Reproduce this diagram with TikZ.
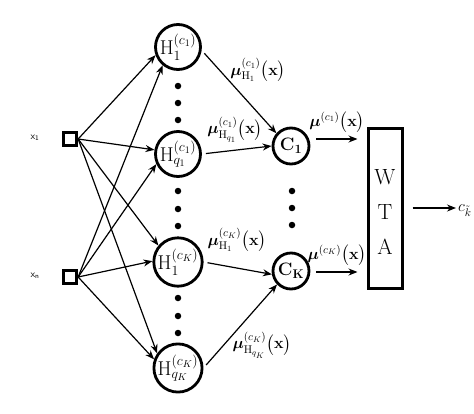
\RequirePackage{fix-cm}
\documentclass[tikz,border=0pt]{standalone}
\usepackage{amsmath,bm}
\usetikzlibrary{arrows.meta}
\begin{document}
\begin{tikzpicture}[x=1pt,y=-1pt,
  hid/.style={circle,draw,line width=2.8pt,minimum size=45pt,inner sep=0pt,font=\fontsize{20}{22}\selectfont},
  cls/.style={circle,draw,line width=2.8pt,minimum size=36pt,inner sep=0pt,font=\fontsize{18}{20}\selectfont},
  inp/.style={draw,line width=2.8pt,minimum size=13.5pt,inner sep=0pt},
  arr/.style={-{Stealth[length=9pt,width=7pt]},line width=1.2pt},
  dotn/.style={circle,fill,inner sep=0pt,minimum size=6.5pt},
  lab/.style={font=\fontsize{16}{18}\selectfont,inner sep=0pt},
  wtabox/.style={draw,line width=3pt,minimum width=34pt,minimum height=160pt,inner sep=0pt},
  wtalet/.style={font=\fontsize{22}{24}\selectfont,inner sep=0pt},
  inlab/.style={font=\sffamily\normalsize,inner sep=0pt}
]
\useasboundingbox (0,0) rectangle (474,413);
% inputs
\node[inp] (x1) at (70,139) {};
\node[inp] (xn) at (70,277) {};
\node[inlab] (lx1) at (35,138) {x\textsubscript{1}};
\node[inlab] (lxn) at (35,276) {x\textsubscript{n}};
% hidden nodes
\node[hid] (h11) at (178,47) {$\mathrm{H}_1^{(c_1)}$};
\node[hid] (hq1) at (178,154) {$\mathrm{H}_{q_1}^{(c_1)}$};
\node[hid] (h1k) at (178,262) {$\mathrm{H}_1^{(c_K)}$};
\node[hid] (hqk) at (178,368) {$\mathrm{H}_{q_K}^{(c_K)}$};
% dots
\node[dotn] (da1) at (178,86) {};
\node[dotn] (da2) at (178,103) {};
\node[dotn] (da3) at (178,120) {};
\node[dotn] (db1) at (178,191) {};
\node[dotn] (db2) at (178,209) {};
\node[dotn] (db3) at (178,226) {};
\node[dotn] (dc1) at (178,298) {};
\node[dotn] (dc2) at (178,316) {};
\node[dotn] (dc3) at (178,333) {};
% class nodes
\node[cls] (c1) at (291,146) {$\mathbf{C}_{\mathbf 1}$};
\node[cls] (ck) at (291,271) {$\mathbf{C}_{\mathbf K}$};
\node[dotn] (dd1) at (292,191) {};
\node[dotn] (dd2) at (292,208) {};
\node[dotn] (dd3) at (292,225) {};
% WTA
\node[wtabox] (wta) at (385,208) {};
\node[wtalet] (lw) at (385,177) {W};
\node[wtalet] (lt) at (385,212) {T};
\node[wtalet] (la) at (385,247) {A};
\node[lab,anchor=west] (out) at (458,211) {$c_{\tilde{k}}$};
\draw[arr,shorten >=2pt] ([xshift=9pt]wta.east) -- (out.west |- wta.east);
% input connections
\foreach \t/\a in {h11/200, hq1/170, h1k/140, hqk/145}
  \draw[arr] (x1.east) -- (\t.\a);
\foreach \t/\a in {h11/230, hq1/205, h1k/178, hqk/160}
  \draw[arr] (xn.east) -- (\t.\a);
% hidden to class
\draw[arr,shorten <=4pt] (h11.-8) -- (c1.139);
\draw[arr,shorten <=4pt] (hq1.east) -- (c1.west);
\draw[arr,shorten <=4pt] (h1k.east) -- (ck.190);
\draw[arr,shorten <=4pt] (hqk.east) -- (ck.224);
% class to WTA
\draw[arr] ([shift={(6,-7)}]c1.east) -- ([shift={(-9,-7)}]c1.east -| wta.west);
\draw[arr] ([shift={(6,1)}]ck.east) -- ([shift={(-9,1)}]ck.east -| wta.west);
% labels
\node[lab] (m1) at (258,70) {$\bm{\mu}_{\mathrm{H}_1}^{(c_1)}\bigl(\mathbf{x}\bigr)$};
\node[lab] (m2) at (235,130) {$\bm{\mu}_{\mathrm{H}_{q_1}}^{(c_1)}\bigl(\mathbf{x}\bigr)$};
\node[lab] (m3) at (237,240) {$\bm{\mu}_{\mathrm{H}_1}^{(c_K)}\bigl(\mathbf{x}\bigr)$};
\node[lab] (m4) at (262,345) {$\bm{\mu}_{\mathrm{H}_{q_K}}^{(c_K)}\bigl(\mathbf{x}\bigr)$};
\node[lab] (m5) at (337,122) {$\bm{\mu}^{(c_1)}\bigl(\mathbf{x}\bigr)$};
\node[lab] (m6) at (337,255) {$\bm{\mu}^{(c_K)}\bigl(\mathbf{x}\bigr)$};
\end{tikzpicture}
\end{document}
